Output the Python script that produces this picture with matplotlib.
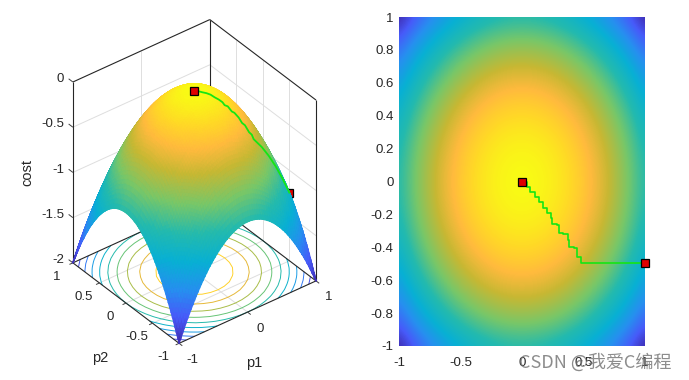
import numpy as np
import matplotlib
matplotlib.use('Agg')
import matplotlib.pyplot as plt
import matplotlib.tri as mtri
from matplotlib.colors import LinearSegmentedColormap, Normalize
from mpl_toolkits.mplot3d import proj3d
from mpl_toolkits.mplot3d.art3d import Poly3DCollection

plt.rcParams['font.family'] = ['Liberation Sans', 'DejaVu Sans']

# %% data
p_grid = [0.0, 0.1, 0.2, 0.3, 0.4, 0.5, 0.6, 0.7, 0.8, 0.9, 1.0]
# one quadrant of the cost surface (rows p2, columns p1), the picture is symmetric
cost_quadrant = [
    [0.00, -0.01, -0.04, -0.09, -0.16, -0.25, -0.36, -0.49, -0.64, -0.81, -1.00],
    [-0.01, -0.02, -0.05, -0.10, -0.17, -0.26, -0.37, -0.50, -0.65, -0.82, -1.01],
    [-0.04, -0.05, -0.08, -0.13, -0.20, -0.29, -0.40, -0.53, -0.68, -0.85, -1.04],
    [-0.09, -0.10, -0.13, -0.18, -0.25, -0.34, -0.45, -0.58, -0.73, -0.90, -1.09],
    [-0.16, -0.17, -0.20, -0.25, -0.32, -0.41, -0.52, -0.65, -0.80, -0.97, -1.16],
    [-0.25, -0.26, -0.29, -0.34, -0.41, -0.50, -0.61, -0.74, -0.89, -1.06, -1.25],
    [-0.36, -0.37, -0.40, -0.45, -0.52, -0.61, -0.72, -0.85, -1.00, -1.17, -1.36],
    [-0.49, -0.50, -0.53, -0.58, -0.65, -0.74, -0.85, -0.98, -1.13, -1.30, -1.49],
    [-0.64, -0.65, -0.68, -0.73, -0.80, -0.89, -1.00, -1.13, -1.28, -1.45, -1.64],
    [-0.81, -0.82, -0.85, -0.90, -0.97, -1.06, -1.17, -1.30, -1.45, -1.62, -1.81],
    [-1.00, -1.01, -1.04, -1.09, -1.16, -1.25, -1.36, -1.49, -1.64, -1.81, -2.00],
]
path_p1 = [0.0, 0.038, 0.065, 0.106, 0.141, 0.168, 0.206, 0.236, 0.241, 0.282, 0.301, 0.336,
           0.371, 0.385, 0.423, 0.444, 0.48, 0.48, 0.6, 0.7, 0.8, 0.9, 1.0]
path_p2 = [0.0, -0.031, -0.062, -0.092, -0.122, -0.163, -0.193, -0.224, -0.258, -0.264, -0.315, -0.319,
           -0.355, -0.4, -0.406, -0.457, -0.461, -0.497, -0.497, -0.497, -0.497, -0.497, -0.497]
path_cost = [0.0, -0.0024, -0.0081, -0.0197, -0.0348, -0.0548, -0.0797, -0.1059, -0.1247, -0.1492, -0.1899, -0.2147,
             -0.2637, -0.3082, -0.3438, -0.406, -0.4429, -0.4774, -0.607, -0.737, -0.887, -1.057, -1.247]
contour_levels = [-1.8, -1.6, -1.4, -1.2, -1.0, -0.8, -0.6, -0.4, -0.2]

p1_ticks = [-1, 0, 1]
p2_ticks = [-1, -0.5, 0, 0.5, 1]
z_ticks = [0, -0.5, -1, -1.5, -2]
z_labels = ['0', '-0.5', '-1', '-1.5', '-2']
img_xticks = [-1, -0.5, 0, 0.5, 1]
img_xlabels = ['-1', '-0.5', '0', '0.5', '1']
img_yticks = [-1, -0.8, -0.6, -0.4, -0.2, 0, 0.2, 0.4, 0.6, 0.8, 1]
img_ylabels = ['-1', '-0.8', '-0.6', '-0.4', '-0.2', '0', '0.2', '0.4', '0.6', '0.8', '1']

# %% parula like colormap
parula = LinearSegmentedColormap.from_list('parula', [
    (0.0, (0.2422, 0.1504, 0.6603)), (0.125, (0.2778, 0.3556, 0.9777)), (0.25, (0.1500, 0.5600, 0.9400)),
    (0.375, (0.0300, 0.6900, 0.8300)), (0.5, (0.1400, 0.7300, 0.6800)), (0.625, (0.4700, 0.7800, 0.4100)),
    (0.75, (0.7800, 0.7200, 0.2000)), (0.84, (1.0000, 0.7300, 0.2400)), (0.92, (1.0000, 0.8500, 0.1500)),
    (1.0, (0.9769, 0.9839, 0.0805))])
norm = Normalize(-2, 0)

q = np.array(cost_quadrant)
half = np.hstack([q[:, :0:-1], q])
cost = np.vstack([half[:0:-1], half])
p = np.concatenate([-np.array(p_grid[:0:-1]), p_grid])
P1, P2 = np.meshgrid(p, p)

W, H = 689, 380
fig = plt.figure(figsize=(W / 100, H / 100), dpi=100)

# %% left: surface with contours on the floor
ax = fig.add_axes([29.1 / W, 33.2 / H, 322 / W, 322 / H], projection='3d', computed_zorder=False,
                  proj_type='ortho')
ax.view_init(elev=36, azim=-127.8)
ax.set_box_aspect((1, 1, 1.29))
ax.set_axis_off()
ax.set_xlim(-1, 1, view_margin=0)
ax.set_ylim(-1, 1, view_margin=0)
ax.set_zlim(-2, 0, view_margin=0)

dark = '#262626'
grid = '#dedede'
tick_c = '#404040'


def line3(xs, ys, zs, c=dark, lw=0.8, z=2):
    ax.plot(xs, ys, zs, color=c, lw=lw, zorder=z, solid_capstyle='butt', clip_on=False)


def label3(x, y, z, s, ha='center'):
    x2, y2, _ = proj3d.proj_transform(x, y, z, ax.get_proj())
    ax.text2D(x2, y2, s, transform=ax.transData, ha=ha, va='center', fontsize=9.5, color=dark, clip_on=False)


for t in p1_ticks[1:-1]:
    line3([t, t], [-1, 1], [-2, -2], grid, 0.7, 1)
    line3([t, t], [1, 1], [-2, 0], grid, 0.7, 1)
for t in p2_ticks[1:-1]:
    line3([-1, 1], [t, t], [-2, -2], grid, 0.7, 1)
    line3([1, 1], [t, t], [-2, 0], grid, 0.7, 1)
for t in z_ticks[1:-1]:
    line3([-1, 1], [1, 1], [t, t], grid, 0.7, 1)
    line3([1, 1], [-1, 1], [t, t], grid, 0.7, 1)

ax.contour(P1, P2, cost, levels=contour_levels, zdir='z', offset=-2, cmap=parula, vmin=-2, vmax=0,
           linewidths=0.7, zorder=2)

# box edges
line3([-1, 1], [1, 1], [0, 0])
line3([1, 1], [1, -1], [0, 0])
line3([1, 1], [1, 1], [-2, 0])
line3([-1, -1], [1, 1], [-2, 0])
line3([1, 1], [-1, -1], [-2, 0])
line3([-1, -1], [1, -1], [-2, -2])
line3([-1, 1], [-1, -1], [-2, -2])
line3([1, 1], [1, -1], [-2, -2])
line3([-1, 1], [1, 1], [-2, -2])

for t, s in zip(z_ticks, z_labels):
    line3([-1, -1], [1, 1.08], [t, t], tick_c, 0.7)
    label3(-1.047, 1.107, t, s, ha='right')
for t in p1_ticks:
    line3([t, t], [-1, -1.06], [-2, -2], tick_c, 0.7)
    label3(t - 0.08, -1.35, -2, '%g' % t)
for t in p2_ticks:
    line3([-1, -1.05], [t, t], [-2, -2], tick_c, 0.7)
    label3(-1.31, t - 0.10, -2, '%g' % t)

# end marker sits behind the surface edge
ax.plot(path_p1[-1:], path_p2[-1:], path_cost[-1:], 's', color='#e00000', mec='k', ms=5.2, mew=0.9, zorder=3)

tri = mtri.Triangulation(P1.ravel(), P2.ravel())
refiner = mtri.UniformTriRefiner(tri)
tri_fine, cost_fine = refiner.refine_field(cost.ravel(), subdiv=2)
tris = tri_fine.triangles
verts = np.stack([tri_fine.x[tris], tri_fine.y[tris], cost_fine[tris]], axis=-1)
cols = parula(norm(cost_fine[tris].mean(axis=1)))
# thick edges in the face colour, so the back of the surface does not show through the seams
surf = Poly3DCollection(verts, facecolors=cols, edgecolors=cols, linewidths=1.0, zorder=4)
ax.add_collection3d(surf, autolim=False)

ax.plot(path_p1, path_p2, path_cost, color='#14e614', lw=1.3, zorder=5)
ax.plot(path_p1[:1], path_p2[:1], path_cost[:1], 's', color='#e00000', mec='k', ms=5.2, mew=0.9, zorder=6)

fig.text(254 / W, 1 - 363 / H, 'p1', ha='center', va='center', fontsize=10.5, color=dark)
fig.text(100 / W, 1 - 358 / H, 'p2', ha='center', va='center', fontsize=10.5, color=dark)
fig.text(27 / W, 1 - 172 / H, 'cost', ha='center', va='center', rotation=90, fontsize=10.5, color=dark)

# %% right: top view
ax2 = fig.add_axes([399 / W, 1 - 346 / H, 246 / W, 329 / H])
ax2.imshow(cost, extent=[-1.05, 1.05, -1.05, 1.05], origin='lower', aspect='auto', cmap=parula,
           vmin=-2, vmax=0, interpolation='bicubic')
ax2.plot(path_p1, path_p2, color='#14e614', lw=1.2, drawstyle='steps-post')
ax2.plot(path_p1[:1] + path_p1[-1:], path_p2[:1] + path_p2[-1:], 's', color='#e00000', mec='k', ms=5.2,
         mew=0.9, clip_on=False)
ax2.set_xlim(-1, 1)
ax2.set_ylim(-1, 1)
ax2.set_xticks(img_xticks, img_xlabels)
ax2.set_yticks(img_yticks, img_ylabels)
ax2.tick_params(length=0, labelsize=9.5, labelcolor=dark)
ax2.tick_params(axis='x', pad=8)
ax2.tick_params(axis='y', pad=4)
for s in ax2.spines.values():
    s.set_visible(False)

fig.text(595 / W, 1 - 362 / H, 'CSDN @我爱C编程', ha='center', va='center', fontsize=13, color='#707070',
         alpha=0.8, family=['Noto Sans CJK SC', 'DejaVu Sans'])

fig.savefig('out.png', dpi=100)
